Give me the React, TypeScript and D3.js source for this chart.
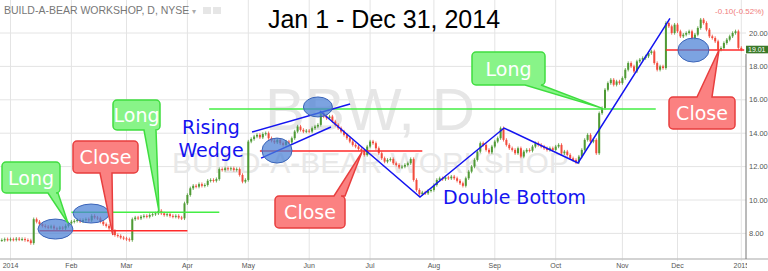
import React from "react";
import * as d3 from "d3";

// ---- Data: daily closes per month ----
const dec2013 = [7.6, 7.65, 7.62];
const jan = [7.65, 7.62, 7.68, 7.64, 7.66, 7.6, 7.58, 7.42, 8.85, 8.7, 8.55, 8.45, 8.4, 8.35, 8.42, 8.3, 8.28, 8.35, 8.3, 8.45, 8.6];
const feb = [8.7, 8.75, 8.8, 8.72, 8.8, 8.85, 8.78, 9.05, 8.95, 8.9, 8.7, 8.55, 8.45, 8.3, 8.15, 7.9, 7.85, 7.75, 7.7];
const mar = [7.65, 7.6, 8.85, 8.95, 8.9, 9.0, 9.05, 9.0, 9.1, 9.15, 9.2, 9.35, 9.2, 9.1, 9.15, 9.05, 9.0, 9.05, 8.95, 8.9, 9.8];
const apr = [10.3, 10.7, 10.85, 10.8, 10.95, 10.85, 10.9, 11.15, 11.2, 11.15, 11.25, 11.85, 11.8, 11.9, 11.85, 11.9, 11.8, 11.85, 11.5, 11.1, 11.2];
const may = [13.5, 13.65, 13.8, 13.9, 13.75, 13.95, 14.0, 13.7, 13.55, 13.45, 13.6, 13.4, 13.3, 13.5, 13.45, 13.7, 14.1, 14.4, 14.2, 14.1, 14.15];
const jun = [14.1, 14.3, 14.4, 14.5, 15.2, 15.0, 14.9, 15.0, 14.7, 14.5, 14.3, 14.1, 13.9, 13.7, 13.5, 13.3, 13.2, 13.05, 12.95, 12.7, 13.2];
const jul = [13.5, 13.4, 13.1, 12.8, 12.5, 12.3, 12.4, 12.45, 12.2, 12.1, 11.95, 12.0, 12.1, 12.2, 12.45, 11.2, 10.6, 10.35, 10.45, 10.4, 10.55, 10.6];
const aug = [10.9, 11.2, 11.3, 11.25, 11.35, 11.3, 11.4, 11.3, 11.15, 11.0, 10.85, 11.3, 11.7, 12.0, 12.4, 12.9, 13.4, 13.3, 13.0, 12.85, 13.2];
const sep = [13.5, 13.7, 14.3, 13.6, 13.3, 13.1, 13.0, 12.8, 13.1, 12.6, 12.9, 13.0, 12.95, 13.2, 13.4, 13.3, 13.2, 13.1, 13.0, 13.1, 13.0];
const oct = [13.2, 13.3, 12.8, 12.9, 12.7, 12.5, 12.4, 12.25, 12.6, 13.0, 13.6, 13.9, 13.5, 13.6, 12.8, 15.2, 15.5, 16.6, 17.0, 17.2, 16.9, 17.1, 17.0];
const nov = [17.3, 17.8, 18.2, 18.0, 17.7, 18.3, 18.4, 18.5, 18.6, 18.8, 18.9, 18.2, 17.8, 18.0, 17.9, 20.6, 20.4, 20.0, 20.5];
const dec = [20.1, 19.8, 19.9, 20.0, 20.1, 19.7, 19.9, 20.3, 20.8, 20.6, 20.2, 19.8, 19.7, 19.5, 19.0, 19.1, 19.4, 19.6, 19.8, 20.0, 20.1, 19.11];
const jan2015 = [19.01];

const months = [jan, feb, mar, apr, may, jun, jul, aug, sep, oct, nov, dec, jan2015];
const monthLabels = ["2014", "Feb", "Mar", "Apr", "May", "Jun", "Jul", "Aug", "Sep", "Oct", "Nov", "Dec", "2015"];
const priceTicks = [8, 10, 12, 14, 16, 18, 20];

// annotation levels: [price, fromBar, toBar]
const redLevels = [[8.16, 10, 61], [12.93, 86, 142], [18.98, 226, 253]];
const greenLevels = [[9.26, 21, 72], [15.45, 68.5, 222.5]];
// blue pattern lines as (bar, price) points
const wedgeUpper = [[83.3, 14.07], [117.1, 15.75]];
const wedgeLower = [[86.4, 12.51], [110.5, 14.37]];
const patternPath = [[106.7, 15.33], [141.2, 10.18], [170.2, 14.31], [195.7, 12.22], [227.4, 20.88]];
// ellipses: bar, price, rx, ry
const ellipses = [[15.5, 8.26, 17.5, 10], [27.8, 9.19, 18, 9.5], [91.9, 12.96, 15, 12.5], [106, 15.57, 14.5, 10], [235.5, 18.98, 15.5, 12]];
// callouts: label, kind, tip bar, tip price
const callouts = [
  { label: "Long", kind: "long", bar: 19.8, price: 8.62, box: [2, 162, 58, 31], side: "bottom", base: [48, 58] },
  { label: "Close", kind: "close", bar: 35.3, price: 7.9, box: [73, 141, 65, 32], side: "bottom", base: [100, 112] },
  { label: "Long", kind: "long", bar: 51.2, price: 9.34, box: [113, 100, 47, 30], side: "bottom", base: [144, 156] },
  { label: "Close", kind: "close", bar: 121.2, price: 12.87, box: [275, 196, 70, 32], side: "top", base: [334, 345] },
  { label: "Long", kind: "long", bar: 203.9, price: 15.5, box: [472, 52, 73, 33], side: "bottom", base: [525, 541] },
  { label: "Close", kind: "close", bar: 244.3, price: 18.98, box: [669, 97, 66, 32], side: "top", base: [697, 712] },
];

const W = 768, H = 271;
const PLOT_RIGHT = 746, AXIS_Y = 259;

function calloutPath(x, y, w, h, r, side, b1, b2, tx, ty) {
  const p = d3.path();
  p.moveTo(x + r, y);
  if (side === "top") { p.lineTo(b1, y); p.lineTo(tx, ty); p.lineTo(b2, y); }
  p.lineTo(x + w - r, y); p.arcTo(x + w, y, x + w, y + r, r);
  p.lineTo(x + w, y + h - r); p.arcTo(x + w, y + h, x + w - r, y + h, r);
  if (side === "bottom") { p.lineTo(b2, y + h); p.lineTo(tx, ty); p.lineTo(b1, y + h); }
  p.lineTo(x + r, y + h); p.arcTo(x, y + h, x, y + h - r, r);
  p.lineTo(x, y + r); p.arcTo(x, y, x + r, y, r);
  p.closePath();
  return p.toString();
}

export default function App() {
  const x = d3.scaleLinear().domain([0, 252]).range([10.5, 741.3]);
  const y = d3.scaleLinear().domain([8, 20]).range([233.4, 33]);

  const closes = [...dec2013, ...months.flat()];
  const offset = dec2013.length;
  const bars = closes.map((c, k) => {
    const o = k === 0 ? c : closes[k - 1];
    return { i: k - offset, o, c };
  });
  const monthStarts: number[] = [];
  let acc = 0;
  months.forEach((m) => { monthStarts.push(acc); acc += m.length; });

  const up = "#4f9a35", down = "#f24b3c";
  const line = d3.line().x((d: any) => x(d[0])).y((d: any) => y(d[1]));
  const annoFont = "'DejaVu Sans', sans-serif";

  return (
    <svg width={W} height={H} style={{ position: "absolute", left: 0, top: 0, background: "#fff" }} fontFamily="'Liberation Sans', Arial, sans-serif">
      <defs>
        <clipPath id="plot"><rect x={0} y={0} width={PLOT_RIGHT} height={AXIS_Y} /></clipPath>
        <clipPath id="xlab"><rect x={0} y={AXIS_Y} width={PLOT_RIGHT + 1} height={20} /></clipPath>
      </defs>
      {monthStarts.map((s, k) => (
        <line key={"vg" + k} x1={x(s)} x2={x(s)} y1={0} y2={AXIS_Y + 2} stroke="#e4e4e4" />
      ))}
      {priceTicks.map((p) => (
        <line key={"hg" + p} x1={0} x2={PLOT_RIGHT} y1={y(p)} y2={y(p)} stroke="#e4e4e4" />
      ))}
      <text x={265} y={130} fontSize={60} fill="#e6e6e6">BBW, D</text>
      <text x={172} y={173} fontSize={30} fill="#e8e8e8">BUILD-A-BEAR WORKSHOP</text>
      <line x1={0} x2={W} y1={AXIS_Y} y2={AXIS_Y} stroke="#c4c4c4" strokeWidth={1.5} />
      <line x1={PLOT_RIGHT} x2={PLOT_RIGHT} y1={y(18.98) + 4} y2={AXIS_Y} stroke="#777" />
      <g clipPath="url(#xlab)">
        {monthStarts.map((s, k) => (
          <text key={"xl" + k} x={x(s)} y={268} fontSize={7} fill="#555" textAnchor="middle">{monthLabels[k]}</text>
        ))}
      </g>
      {priceTicks.map((p) => (
        <text key={"yl" + p} x={749} y={y(p) + 2.5} fontSize={7.5} fill="#555">{p.toFixed(2)}</text>
      ))}
      <g clipPath="url(#plot)">
        {bars.map((b) => {
          const cx = x(b.i);
          const hi = Math.max(b.o, b.c), lo = Math.min(b.o, b.c);
          const col = b.c >= b.o ? up : down;
          return (
            <g key={"b" + b.i}>
              <line x1={cx} x2={cx} y1={y(hi + 0.1)} y2={y(lo - 0.1)} stroke={col} strokeWidth={0.8} />
              <rect x={cx - 1} y={y(hi)} width={2} height={Math.max(1, y(lo) - y(hi))} fill={col} />
            </g>
          );
        })}
      </g>
      {redLevels.map((l, k) => (
        <line key={"rl" + k} x1={x(l[1])} x2={x(l[2])} y1={y(l[0])} y2={y(l[0])} stroke="#ff2a2a" strokeWidth={1.5} />
      ))}
      {greenLevels.map((l, k) => (
        <line key={"gl" + k} x1={x(l[1])} x2={x(l[2])} y1={y(l[0])} y2={y(l[0])} stroke="#44ee44" strokeWidth={1.5} />
      ))}
      {[wedgeUpper, wedgeLower, patternPath].map((pts, k) => (
        <path key={"bp" + k} d={line(pts as any) || ""} fill="none" stroke="#1414f0" strokeWidth={1.5} />
      ))}
      {ellipses.map((e, k) => (
        <ellipse key={"el" + k} cx={x(e[0])} cy={y(e[1])} rx={e[2]} ry={e[3]} fill="#4a7fd6" fillOpacity={0.72} stroke="#3b64b8" strokeWidth={1} />
      ))}
      {callouts.map((c, k) => {
        const [bx, by, bw, bh] = c.box;
        const isLong = c.kind === "long";
        return (
          <g key={"co" + k}>
            <path d={calloutPath(bx, by, bw, bh, 4, c.side, c.base[0], c.base[1], x(c.bar), y(c.price))}
              fill={isLong ? "#88f488" : "#fb8181"} stroke={isLong ? "#3fdd3f" : "#e83e3e"} strokeWidth={1.5} />
            <text x={bx + bw / 2} y={by + bh / 2 + 7} textAnchor="middle" fontSize={19} fill="#fff" fontFamily={annoFont}>{c.label}</text>
          </g>
        );
      })}
      <text x={211} y={134} textAnchor="middle" fontSize={19} fill="#1414f0" fontFamily={annoFont}>Rising</text>
      <text x={211} y={157} textAnchor="middle" fontSize={19} fill="#1414f0" fontFamily={annoFont}>Wedge</text>
      <text x={443} y={204} fontSize={19} fill="#1414f0" fontFamily={annoFont}>Double Bottom</text>
      <text x={4} y={14} fontSize={10.5} fill="#777">BUILD-A-BEAR WORKSHOP, D, NYSE</text>
      <text x={192} y={14} fontSize={8} fill="#aaa">▾</text>
      <rect x={203} y={7} width={8} height={7} fill="#e6e6e6" />
      <rect x={213} y={7} width={8} height={7} fill="#e6e6e6" />
      <text x={384} y={28} textAnchor="middle" fontSize={25} fill="#000">Jan 1 - Dec 31, 2014</text>
      <text x={764} y={14} textAnchor="end" fontSize={8} fill="#f07b7b">-0.10(-0.52%)</text>
      <rect x={746} y={y(19.01) - 3.8} width={22} height={7.6} fill="#3b7a29" />
      <text x={748} y={y(19.01) + 2.6} fontSize={7} fill="#fff">19.01</text>
    </svg>
  );
}
